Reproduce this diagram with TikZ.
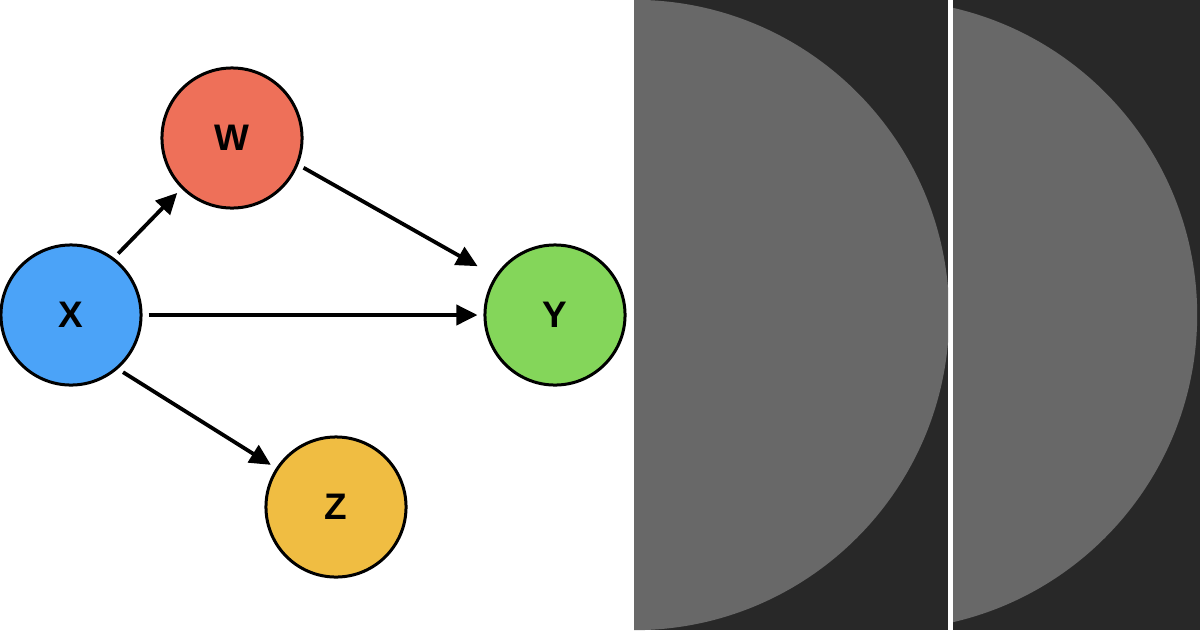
\documentclass[tikz,border=0pt]{standalone}
\usepackage{fontspec}
\setmainfont{Liberation Sans}
\usetikzlibrary{arrows.meta}

\definecolor{xblue}{HTML}{4BA3F8}
\definecolor{wred}{HTML}{EE7059}
\definecolor{ygreen}{HTML}{84D65A}
\definecolor{zyellow}{HTML}{F0BD42}
\definecolor{paneldark}{HTML}{282828}
\definecolor{panelgrey}{HTML}{686868}

\tikzstyle{var}=[circle,draw=black,line width=0.03cm,minimum size=1.4cm,inner sep=0pt,font=\fontsize{10.5pt}{12pt}\selectfont\bfseries]
\tikzstyle{edge}=[line width=0.038cm,-{Triangle[length=0.21cm,width=0.2cm]},shorten <=0.06cm,shorten >=0.06cm]

\begin{document}
\begin{tikzpicture}[x=0.01cm,y=-0.01cm]
\useasboundingbox (0,0) rectangle (1200,630);

\node[var,fill=xblue] (X) at (71,315) {X};
\node[var,fill=wred] (W) at (232,138) {W};
\node[var,fill=ygreen] (Y) at (555,315) {Y};
\node[var,fill=zyellow] (Z) at (336,507) {Z};

\draw[edge] (X.53) -- (W.225);
\draw[edge,shorten >=0.2cm] (W.-22) -- (Y.147);
\draw[edge] (X) -- (Y);
\draw[edge] (X.-49) -- (Z.147);

% two dark panels with the grey discs cut off at their edges
\fill[paneldark] (634,0) rectangle (948,630);
\begin{scope}
\clip (634,0) rectangle (948,630);
\fill[panelgrey] (634,315) circle[radius=3.15cm];
\end{scope}
\fill[paneldark] (953,0) rectangle (1200,630);
\begin{scope}
\clip (953,0) rectangle (1200,630);
\fill[panelgrey] (882,315) circle[radius=3.15cm];
\end{scope}

\end{tikzpicture}
\end{document}
